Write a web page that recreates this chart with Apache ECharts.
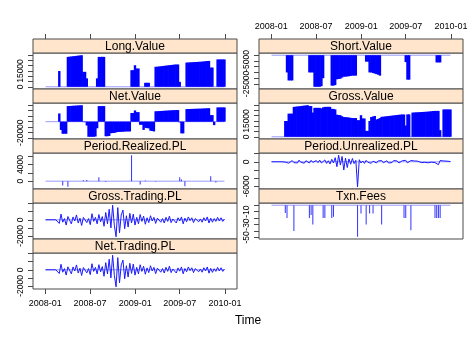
<!DOCTYPE html>
<html><head><meta charset="utf-8">
<script src="https://cdn.jsdelivr.net/npm/echarts@6/dist/echarts.min.js"></script>
<style>html,body{margin:0;padding:0;background:#fff}#c{width:474px;height:338px}</style>
</head><body><div id="c"></div>
<script>
// ---------- DATA (weekly observations starting 2008-01-02) ----------
const weekStart = '2008-01-02';
const nWeeks = 105;

const longValue = [0,0,0,0,0,0,0,0,15000,0,0,0,0,
 28400,28600,28800,29000,29200,29400,29600,29800,30000,
 14200,14200,8000,0,0,0,0,0,8000,28400,28400,28500,28400,
 0,0,0,0,0,0,0,0,0,0,0,0,0,0,0,
 15800,15800,20500,17400,17400,0,0,0,3800,3800,3800,0,0,0,
 19000,19100,19300,19500,19700,19900,20100,20300,20500,20700,20900,21100,21200,21200,
 4700,0,0,0,
 23000,23100,23200,23300,23400,23500,23600,23700,23800,23900,24100,24300,24500,24600,
 18300,18300,0,0,26000,26000,26000,26000,26000];

const shortValue = [0,0,0,0,0,0,0,0,0,-15000,-22000,-22000,-22000,
 0,0,0,0,0,0,0,0,0,
 -15000,-15000,-15000,-27500,-27500,-27500,-27500,-27000,-20000,0,0,0,0,
 -26500,-26500,-26000,-21000,-20700,-20500,-19500,-18700,-18700,-18500,-18300,-18000,-17800,-17800,-17800,
 0,0,0,0,0,-5600,-5600,-15000,-15000,-15500,-16000,-16500,-17000,-17800,
 0,0,0,0,0,0,0,0,0,0,0,0,0,0,
 -6000,-21300,-21300,0,
 0,0,0,0,0,0,0,0,0,0,0,0,0,0,
 -6300,-6300,-6300,0,0,0,0,0,0];

const netValue = [0,0,0,0,0,0,0,0,15000,-15000,-22000,-22000,-22000,
 28400,28600,28800,29000,29200,29400,29600,29800,30000,
 -800,-800,-7000,-27500,-27500,-27500,-27500,-27000,-12000,28400,28400,28500,28400,
 -26500,-26500,-26000,-21000,-20700,-20500,-19500,-18700,-18700,-18500,-18300,-18000,-17800,-17800,-17800,
 15800,15800,20500,17400,17400,-5600,-5600,-15000,-11200,-11700,-12200,-16500,-17000,-17800,
 19000,19100,19300,19500,19700,19900,20100,20300,20500,20700,20900,21100,21200,21200,
 -1300,-21300,-21300,0,
 23000,23100,23200,23300,23400,23500,23600,23700,23800,23900,24100,24300,24500,24600,
 12000,12000,-6300,0,26000,26000,26000,26000,26000];

const grossValue = [0,0,0,0,0,0,0,0,15000,15000,22000,22000,22000,
 28400,28600,28800,29000,29200,29400,29600,29800,30000,
 29200,29200,23000,27500,27500,27500,27500,27000,28000,28400,28400,28500,28400,
 26500,26500,26000,21000,20700,20500,19500,18700,18700,18500,18300,18000,17800,17800,17800,
 15800,15800,20500,17400,17400,5600,5600,15000,18800,19300,19800,16500,17000,17800,
 19000,19100,19300,19500,19700,19900,20100,20300,20500,20700,20900,21100,21200,21200,
 10700,21300,21300,0,
 23000,23100,23200,23300,23400,23500,23600,23700,23800,23900,24100,24300,24500,24600,
 24600,24600,6300,0,26000,26000,26000,26000,26000];

const periodRealizedPL = [0,0,0,0,0,0,0,0,0,0,-1040,0,0,-1350,0,0,0,0,0,0,0,0,200,0,300,
 0,0,0,0,0,0,960,0,0,0,-200,0,0,0,0,0,0,0,0,0,0,0,0,0,0,6260,0,0,0,0,-800,0,0,150,0,
 0,0,0,0,-150,0,0,0,0,0,0,0,0,0,0,0,0,0,960,400,0,-1200,0,0,0,0,0,0,0,0,
 0,0,0,0,0,0,1200,0,0,-300,0,0,0,0,0];

const periodUnrealizedPL = [0,0,0,0,0,0,0,0,-100,250,-350,100,300,-200,150,-300,400,-100,200,-350,
 250,100,-300,350,-150,-250,300,-200,400,-300,150,450,-400,250,-550,600,
 -300,1000,-1200,1600,-800,1300,-2000,900,-1400,700,-600,800,-450,350,-6100,500,-300,200,-400,350,
 -150,300,-350,150,250,-300,200,-150,300,-250,100,250,-300,150,-200,300,-150,200,-300,100,
 250,-200,350,-250,-600,300,-150,200,-250,150,100,-200,250,-150,200,-250,150,-100,250,-200,
 150,-700,300,-150,200,-250,150,-100,50];

const grossTradingPL = [0,0,0,0,0,0,0,0,-450,700,-300,150,-650,400,250,-500,350,-150,600,-400,
 200,-700,300,500,-350,150,-600,750,-200,300,-500,650,-250,400,-800,900,-500,
 1300,-1000,1800,-700,-2100,1500,-1600,600,1200,-1100,500,-900,800,-400,700,-650,300,-500,650,
 -200,450,-550,250,-350,500,-150,300,-450,200,350,-300,150,-400,300,
 -200,450,-350,100,300,-400,250,-150,350,-500,200,-250,350,-100,250,
 -350,150,300,-250,100,-300,250,-150,350,-400,200,-300,150,-200,300,-150,250,-200,100];

const netTradingPL = [0,0,0,0,0,0,0,0,-462,680,-300,150,-650,360,250,-500,350,-150,600,-400,
 200,-700,280,485,-380,150,-600,750,-200,300,-520,630,-250,400,-800,880,-518,
 1300,-1000,1800,-700,-2100,1500,-1600,600,1200,-1100,500,-900,800,-449,700,-663,300,-500,620,
 -200,437,-550,237,-350,500,-150,300,-480,200,350,-300,150,-400,300,
 -200,450,-350,100,300,-400,230,-170,350,-500,161,-250,350,-100,250,
 -350,150,300,-250,100,-300,250,-150,350,-420,180,-320,130,-200,300,-150,250,-200,100];

const txnFees = [0,0,0,0,0,0,0,0,-12,-20,0,0,0,-40,0,0,0,0,0,0,0,0,-20,-15,-30,
 0,0,0,0,0,-20,-20,0,0,0,-20,-18,0,0,0,0,0,0,0,0,0,0,0,0,0,-49,0,-13,0,0,-30,0,-13,0,-13,
 0,0,0,0,-30,0,0,0,0,0,0,0,0,0,0,0,0,-20,-20,0,0,-39,0,0,0,0,0,0,0,0,
 0,0,0,0,0,-20,-20,-20,-20,0,0,0,0,0,0];

// tick marks / labels
const timeTicks = ['2008-01-01','2008-07-01','2009-01-01','2009-07-01','2010-01-01'];
const longTicks = [0,5000,10000,15000,20000,25000,30000];
const longLabels = [0,15000];
const netTicks = [-30000,-20000,-10000,0,10000,20000,30000];
const netLabels = [-20000];
const realizedTicks = [0,2000,4000,6000];
const realizedLabels = [0,4000];
const grossTradingTicks = [-2000,-1000,0,1000,2000];
const grossTradingLabels = [-2000,0];
const netTradingTicks = [-2000,-1000,0,1000,2000];
const netTradingLabels = [-2000,0];
const shortTicks = [-25000,-20000,-15000,-10000,-5000,0];
const shortLabels = [-25000,-5000];
const grossTicks = [0,5000,10000,15000,20000,25000,30000];
const grossLabels = [0,15000];
const unrealizedTicks = [-6000,-4000,-2000,0,2000];
const unrealizedLabels = [-6000,0];
const feeTicks = [-50,-40,-30,-20,-10,0];
const feeLabels = [-50,-30,-10];

// ---------- BUILD ----------
const DAY = 86400000;
const t0 = Date.parse(weekStart + 'T00:00:00Z');
const dates = [];
for (let i = 0; i < nWeeks; i++) dates.push(t0 + i * 7 * DAY);
const tFirst = dates[0], tLast = dates[dates.length - 1];
const xPad = 0.07 * (tLast - tFirst);
const xMin = tFirst - xPad, xMax = tLast + xPad;
const timeTickVals = timeTicks.map(s => Date.parse(s + 'T00:00:00Z'));

// kind: 'h' = vertical segments from zero (filled blocks), 'l' = dense zig-zag line, 's' = sparse spikes
const panels = [
  {name:'Long.Value', data:longValue, col:0, row:0, ticks:longTicks, labels:longLabels, kind:'h'},
  {name:'Net.Value', data:netValue, col:0, row:1, ticks:netTicks, labels:netLabels, kind:'h'},
  {name:'Period.Realized.PL', data:periodRealizedPL, col:0, row:2, ticks:realizedTicks, labels:realizedLabels, kind:'s'},
  {name:'Gross.Trading.PL', data:grossTradingPL, col:0, row:3, ticks:grossTradingTicks, labels:grossTradingLabels, kind:'l'},
  {name:'Net.Trading.PL', data:netTradingPL, col:0, row:4, ticks:netTradingTicks, labels:netTradingLabels, kind:'l'},
  {name:'Short.Value', data:shortValue, col:1, row:0, ticks:shortTicks, labels:shortLabels, kind:'h'},
  {name:'Gross.Value', data:grossValue, col:1, row:1, ticks:grossTicks, labels:grossLabels, kind:'h'},
  {name:'Period.Unrealized.PL', data:periodUnrealizedPL, col:1, row:2, ticks:unrealizedTicks, labels:unrealizedLabels, kind:'l'},
  {name:'Txn.Fees', data:txnFees, col:1, row:3, ticks:feeTicks, labels:feeLabels, kind:'s'}
];

const colLeft = [33, 259], colW = 204;
const top0 = 39, rowH = 50, stripH = 14;
const border = '#4a4a4a';
const FONT = 'Liberation Sans, Arial, Helvetica, sans-serif';

const fmtTime = v => { const d = new Date(v); const m = d.getUTCMonth() + 1; return d.getUTCFullYear() + '-' + (m < 10 ? '0' + m : m); };

const grid = [], xAxis = [], yAxis = [], series = [], graphic = [];
panels.forEach((p, i) => {
  const left = colLeft[p.col];
  const stripTop = top0 + p.row * rowH;
  const top = stripTop + stripH;
  const h = rowH - stripH;
  grid.push({left: left, top: top, width: colW, height: h, show: true, borderColor: border, borderWidth: 1, backgroundColor: 'transparent', containLabel: false});

  const isTopLeft = p.col === 0 && p.row === 0;
  const isBottomLeft = p.col === 0 && p.row === 4;
  const isTopRight = p.col === 1 && p.row === 0;
  const showTicks = isTopLeft || isBottomLeft || isTopRight;
  xAxis.push({
    type: 'value', gridIndex: i, min: xMin, max: xMax, scale: true,
    position: (isBottomLeft ? 'bottom' : 'top'),
    offset: isBottomLeft ? 0 : stripH,
    axisLine: {show: false, onZero: false},
    axisTick: {show: showTicks, length: 5, customValues: timeTickVals, lineStyle: {color: border}},
    axisLabel: {show: isBottomLeft || isTopRight, customValues: timeTickVals, formatter: fmtTime, fontSize: 9, color: '#000', margin: isTopRight ? 8 : 10, fontFamily: FONT, showMinLabel: true, showMaxLabel: true},
    splitLine: {show: false}
  });

  const lo = Math.min.apply(null, p.data), hi = Math.max.apply(null, p.data);
  const yPad = 0.07 * (hi - lo);
  const yMin = lo - yPad, yMax = hi + yPad;
  const mainY = yAxis.length;
  yAxis.push({
    type: 'value', gridIndex: i, position: 'left', min: yMin, max: yMax,
    axisLine: {show: false, onZero: false},
    axisTick: {show: true, length: 5, customValues: p.ticks, lineStyle: {color: border}},
    axisLabel: {show: false},
    splitLine: {show: false}
  });
  // one label-only axis per tick label (so no label is dropped by overlap checks)
  p.labels.forEach(lv => {
    yAxis.push({
      type: 'value', gridIndex: i, position: 'left', min: yMin, max: yMax,
      axisLine: {show: false, onZero: false}, axisTick: {show: false}, splitLine: {show: false},
      axisLabel: {show: true, customValues: [lv], rotate: 90, fontSize: 8.5, color: '#000', margin: 8, fontFamily: FONT, showMinLabel: true, showMaxLabel: true, formatter: v => String(v)}
    });
  });

  series.push({
    type: 'line', xAxisIndex: i, yAxisIndex: mainY, symbol: 'none', silent: true, z: 1,
    lineStyle: {color: '#9a9aff', width: 1},
    data: [[tFirst, 0], [tLast, 0]]
  });
  const pts = p.data.map((v, k) => [dates[k], v]);
  if (p.kind === 'l') {
    series.push({
      type: 'line', xAxisIndex: i, yAxisIndex: mainY, symbol: 'none', silent: true, z: 2,
      lineStyle: {color: '#1a1aff', width: 1}, data: pts
    });
  } else {
    series.push({
      type: 'bar', xAxisIndex: i, yAxisIndex: mainY, barWidth: p.kind === 'h' ? 2.4 : 1, z: 2, silent: true,
      itemStyle: {color: p.kind === 'h' ? '#0000ff' : '#3333ff'},
      data: pts
    });
  }

  graphic.push({type: 'rect', shape: {x: left, y: stripTop, width: colW, height: stripH},
    style: {fill: '#ffe5cc', stroke: border, lineWidth: 1}, z: 10});
  graphic.push({type: 'text', x: left + colW / 2, y: stripTop + stripH / 2 + 0.5, z: 11,
    style: {text: p.name, font: '12px ' + FONT, fill: '#000', textAlign: 'center', textVerticalAlign: 'middle', align: 'center', verticalAlign: 'middle'}});
});
graphic.push({type: 'text', x: 248, y: 321, z: 11,
  style: {text: 'Time', font: '12px ' + FONT, fill: '#000', textAlign: 'center', textVerticalAlign: 'middle', align: 'center', verticalAlign: 'middle'}});

const chart = echarts.init(document.getElementById('c'), null, {renderer: 'canvas'});
chart.setOption({
  animation: false,
  backgroundColor: '#ffffff',
  textStyle: {fontFamily: FONT},
  grid, xAxis, yAxis, series, graphic
});
</script>
</body></html>
